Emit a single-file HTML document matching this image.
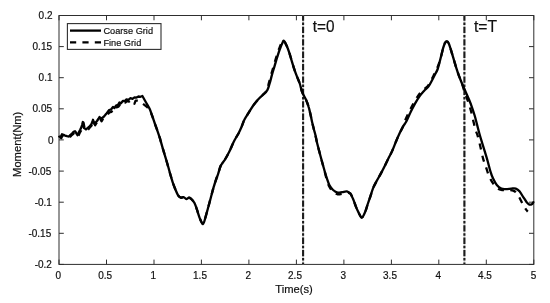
<!DOCTYPE html>
<html lang="en">
<head>
<meta charset="utf-8">
<title>Moment vs Time</title>
<style>
html,body{margin:0;padding:0;background:#fff;}
.lbl text{font-family:"Liberation Sans",sans-serif;fill:#111;stroke:#111;stroke-width:0.2px;}
body{width:550px;height:303px;overflow:hidden;position:relative;}
</style>
</head>
<body>
<svg width="550" height="303" viewBox="0 0 550 303" style="display:block;position:absolute;left:0;top:0">
<rect x="0" y="0" width="550" height="303" fill="#ffffff"/>
<g stroke="#2e2e2e" stroke-width="1" fill="none" stroke-linecap="butt">
<rect x="59.0" y="15.5" width="474.8" height="248.9"/>
<path d="M59.0,264.4 v-4.8 M59.0,15.5 v4.8 M106.5,264.4 v-4.8 M106.5,15.5 v4.8 M154.0,264.4 v-4.8 M154.0,15.5 v4.8 M201.4,264.4 v-4.8 M201.4,15.5 v4.8 M248.9,264.4 v-4.8 M248.9,15.5 v4.8 M296.4,264.4 v-4.8 M296.4,15.5 v4.8 M343.9,264.4 v-4.8 M343.9,15.5 v4.8 M391.4,264.4 v-4.8 M391.4,15.5 v4.8 M438.8,264.4 v-4.8 M438.8,15.5 v4.8 M486.3,264.4 v-4.8 M486.3,15.5 v4.8 M533.8,264.4 v-4.8 M533.8,15.5 v4.8 M59.0,15.5 h4.8 M533.8,15.5 h-4.8 M59.0,46.6 h4.8 M533.8,46.6 h-4.8 M59.0,77.7 h4.8 M533.8,77.7 h-4.8 M59.0,108.8 h4.8 M533.8,108.8 h-4.8 M59.0,139.9 h4.8 M533.8,139.9 h-4.8 M59.0,171.1 h4.8 M533.8,171.1 h-4.8 M59.0,202.2 h4.8 M533.8,202.2 h-4.8 M59.0,233.3 h4.8 M533.8,233.3 h-4.8 M59.0,264.4 h4.8 M533.8,264.4 h-4.8"/>
</g>
<path d="M303.1,15.5 V264.4" stroke="#d6d6d6" stroke-width="1.8" fill="none"/>
<path d="M303.1,15.5 V264.4" stroke="#1c1c1c" stroke-width="2.1" stroke-dasharray="6.3 1.8 2.5 1.8" stroke-dashoffset="1.1" fill="none"/>
<path d="M464.4,15.5 V264.4" stroke="#d6d6d6" stroke-width="1.8" fill="none"/>
<path d="M464.4,15.5 V264.4" stroke="#1c1c1c" stroke-width="2.1" stroke-dasharray="6.3 1.8 2.5 1.8" stroke-dashoffset="1.1" fill="none"/>
<path d="M59.3,136.6 L60.6,137.3 L62.0,134.2 L63.5,134.8 L65.0,135.6 L67.0,136.2 L69.0,136.5 L70.5,134.8 L72.0,133.5 L73.6,131.8 L75.0,131.2 L75.8,132.3 L76.5,133.6 L77.5,135.2 L78.2,134.0 L79.0,132.0 L80.3,129.6 L81.5,127.0 L82.2,124.5 L82.8,122.0 L83.4,125.0 L84.0,128.0 L85.0,128.6 L86.0,129.5 L87.5,128.2 L89.0,127.0 L90.3,125.6 L91.5,124.0 L92.3,122.0 L93.0,119.8 L93.8,122.0 L94.5,124.0 L95.8,122.3 L97.0,121.0 L98.3,119.0 L99.5,117.0 L100.2,117.6 L101.0,119.0 L102.5,117.6 L104.0,116.5 L105.5,114.6 L107.0,113.0 L108.0,111.4 L109.0,110.2 L111.0,109.5 L113.0,107.0 L114.5,108.0 L116.0,105.5 L118.0,104.8 L119.5,102.5 L121.0,103.2 L123.0,100.8 L125.0,101.0 L126.5,99.3 L128.5,99.8 L130.5,98.2 L132.5,98.8 L134.5,97.3 L136.5,97.6 L138.5,96.5 L140.5,96.8 L142.4,96.0 L145.9,102.2 C147.1,104.3 148.4,106.3 149.5,108.6 C150.6,110.9 151.3,113.3 152.2,115.9 C153.1,118.5 154.1,121.4 155.0,124.0 C155.9,126.6 156.7,128.8 157.6,131.3 C158.5,133.8 159.3,136.4 160.2,139.2 C161.0,142.0 161.8,145.1 162.7,148.1 C163.6,151.1 164.5,154.2 165.4,157.2 C166.3,160.2 167.2,163.3 168.1,166.3 C168.9,169.3 169.7,172.3 170.5,175.0 C171.3,177.7 171.9,179.9 172.7,182.3 C173.5,184.7 174.5,187.3 175.4,189.5 C176.3,191.7 177.2,193.9 178.1,195.3 C179.0,196.7 180.0,197.4 180.9,197.7 C181.8,198.0 182.7,196.9 183.6,197.1 C184.5,197.3 185.4,198.9 186.3,199.0 C187.2,199.1 188.1,197.6 189.0,197.7 C189.9,197.8 190.9,198.6 191.8,199.5 C192.7,200.4 193.6,201.3 194.5,203.1 C195.4,204.9 196.3,207.8 197.2,210.4 C198.1,213.0 198.9,216.3 199.9,218.6 C200.9,220.9 202.1,224.2 203.0,224.0 C203.9,223.8 204.6,220.3 205.4,217.6 C206.2,214.9 207.2,211.0 208.1,207.7 C209.0,204.4 209.9,201.0 210.8,197.7 C211.7,194.4 212.6,190.7 213.5,187.7 C214.4,184.7 215.3,181.8 216.1,179.5 C216.9,177.2 217.4,176.2 218.1,174.0 C218.8,171.8 219.7,168.3 220.4,166.5 C221.1,164.7 221.7,164.2 222.5,163.0 C223.3,161.8 223.8,161.4 225.0,159.5 C226.2,157.6 228.0,154.3 229.5,151.3 C231.0,148.3 232.5,144.3 234.0,141.3 C235.5,138.3 237.3,135.6 238.6,133.2 C239.8,130.8 240.5,129.3 241.5,127.0 C242.5,124.7 243.2,122.0 244.5,119.5 C245.8,117.0 247.5,114.6 249.0,112.2 C250.5,109.8 252.1,107.1 253.6,105.0 C255.1,102.9 256.6,101.2 258.1,99.5 C259.6,97.8 261.2,96.5 262.7,95.0 C264.2,93.5 266.1,92.2 267.2,90.4 C268.3,88.6 268.7,86.5 269.5,84.0 C270.3,81.5 271.0,78.4 271.8,75.4 C272.6,72.5 273.6,69.3 274.5,66.3 C275.4,63.3 276.3,60.1 277.2,57.2 C278.1,54.3 279.0,51.3 279.9,49.0 C280.8,46.7 281.6,44.6 282.3,43.2 C283.0,41.8 283.2,40.5 283.9,40.8 C284.6,41.1 285.4,43.2 286.3,45.0 C287.2,46.8 288.1,49.1 289.0,51.8 C289.9,54.4 290.8,57.9 291.7,60.9 C292.6,63.9 293.6,67.2 294.5,69.9 C295.4,72.6 296.3,74.9 297.2,77.2 C298.1,79.5 299.1,81.5 299.9,84.0 C300.7,86.5 301.2,89.6 302.2,92.2 C303.2,94.8 304.8,97.1 305.9,99.5 C307.0,101.9 307.9,104.4 308.6,106.8 C309.4,109.2 309.8,111.4 310.4,114.0 C311.0,116.6 311.6,119.9 312.2,122.5 C312.8,125.1 313.5,127.8 314.0,129.8 C314.5,131.8 314.8,132.3 315.3,134.5 C315.8,136.7 316.4,140.2 317.1,143.1 C317.8,146.0 318.7,149.2 319.5,152.2 C320.3,155.2 321.1,158.3 321.9,161.3 C322.7,164.3 323.6,167.4 324.4,170.2 C325.2,173.0 325.9,175.7 326.8,178.2 C327.7,180.7 328.4,183.4 329.5,185.4 C330.6,187.4 331.7,188.8 333.1,190.0 C334.5,191.2 336.2,192.3 337.7,192.7 C339.2,193.0 340.7,192.3 342.2,192.1 C343.7,191.9 345.4,191.2 346.8,191.4 C348.2,191.7 349.3,192.3 350.4,193.6 C351.4,194.9 352.2,196.9 353.1,199.0 C354.0,201.1 354.9,204.0 355.8,206.3 C356.7,208.6 357.6,210.7 358.6,212.6 C359.6,214.5 360.8,217.5 361.8,217.5 C362.9,217.5 363.9,214.8 364.9,212.6 C365.9,210.4 366.7,207.2 367.6,204.5 C368.5,201.8 369.5,199.0 370.4,196.3 C371.3,193.6 372.1,190.7 373.1,188.1 C374.2,185.5 375.4,183.3 376.7,180.9 C378.0,178.5 379.4,176.2 380.8,173.6 C382.2,171.0 383.7,168.0 385.0,165.4 C386.3,162.8 387.4,160.5 388.6,158.1 C389.8,155.7 391.0,153.6 392.2,150.9 C393.4,148.2 394.7,144.7 395.9,141.8 C397.1,138.9 398.3,136.2 399.5,133.6 C400.7,131.0 402.0,128.4 403.1,126.4 C404.2,124.4 405.1,123.8 406.3,121.5 C407.5,119.2 408.9,115.6 410.4,112.6 C411.8,109.6 413.5,106.3 415.0,103.6 C416.5,100.9 418.0,98.4 419.5,96.3 C421.0,94.2 422.5,92.6 424.0,90.9 C425.5,89.2 427.2,88.1 428.6,86.3 C430.0,84.5 431.1,82.0 432.2,80.0 C433.3,78.0 434.1,76.3 435.0,74.5 C435.9,72.7 436.8,71.6 437.7,69.0 C438.6,66.4 439.5,62.5 440.4,59.0 C441.3,55.5 442.4,50.8 443.1,48.1 C443.9,45.5 444.3,44.2 444.9,43.1 C445.5,42.0 446.2,41.3 446.8,41.3 C447.4,41.3 448.0,42.0 448.6,43.1 C449.2,44.2 449.6,45.8 450.4,48.1 C451.1,50.5 452.2,54.2 453.1,57.2 C454.0,60.2 454.9,63.4 455.8,66.3 C456.7,69.2 457.6,72.0 458.6,74.8 C459.6,77.6 460.7,80.2 461.8,83.0 C462.9,85.8 464.2,88.5 465.4,91.3 C466.6,94.0 467.9,96.9 469.0,99.5 C470.1,102.1 470.9,104.2 471.8,106.8 C472.7,109.4 473.6,112.1 474.5,115.0 C475.4,117.9 476.1,120.8 476.9,124.0 C477.7,127.2 478.6,130.8 479.5,134.0 C480.4,137.2 481.3,140.1 482.2,143.1 C483.1,146.1 484.1,149.2 485.0,152.2 C485.9,155.2 486.8,158.1 487.7,161.3 C488.6,164.5 489.5,168.4 490.4,171.3 C491.3,174.2 492.0,176.3 493.1,178.6 C494.2,180.9 495.4,183.3 496.8,185.0 C498.2,186.7 499.8,187.9 501.3,188.6 C502.8,189.3 504.2,189.1 505.9,189.1 C507.6,189.1 509.7,188.7 511.3,188.6 C513.0,188.5 514.4,188.1 515.8,188.6 C517.2,189.1 518.3,189.9 519.5,191.3 C520.7,192.7 521.9,195.0 523.1,196.8 C524.3,198.6 525.7,200.9 526.7,202.2 C527.8,203.5 528.5,204.3 529.4,204.6 C530.3,204.9 531.5,204.4 532.2,204.0 C532.9,203.6 533.2,202.5 533.4,202.2" stroke="#000" stroke-width="2.3" fill="none" stroke-linejoin="round" stroke-linecap="round"/>
<path d="M60.0,137.3 L61.3,138.1 L62.7,135.2 L64.2,135.9 L65.7,136.8 L67.7,137.5 L69.7,137.2 L71.2,135.6 L72.7,134.4 L74.3,132.8 L75.7,132.4 L76.5,133.6 L77.2,134.2 L78.2,135.9 L78.9,134.8 L79.7,133.0 L81.0,130.7 L82.2,128.2 L82.9,125.8 L83.5,122.7 L84.1,125.8 L84.7,128.9 L85.7,129.6 L86.7,130.7 L88.2,129.5 L89.7,127.6 L91.0,126.3 L92.2,124.8 L93.0,123.0 L93.7,120.9 L94.5,123.2 L95.2,125.3 L96.5,123.0 L97.7,121.8 L99.0,119.9 L100.2,118.0 L100.7,119.7 L101.5,121.3 L103.0,118.9 L104.5,118.0 L106.0,116.3 L107.5,114.9 L108.5,113.4 L109.5,112.4 L111.5,111.9 L113.5,108.4 L115.0,109.6 L116.5,107.3 L118.5,106.7 L120.0,104.6 L121.5,105.5 L123.5,102.1 L125.5,102.5 L127.0,101.0 L129.0,101.7 L131.0,100.2 L131.5,100.6 L133.0,100.9 L134.4,103.8 L135.6,100.6 L137.0,100.6 L138.6,101.0 L140.4,102.2 L142.6,103.6 L145.0,105.4 L147.2,107.2 L149.5,109.2 L152.2,115.9 C153.1,118.4 154.1,121.4 155.0,124.0 C155.9,126.6 156.7,128.8 157.6,131.3 C158.5,133.8 159.3,136.4 160.2,139.2 C161.0,142.0 161.8,145.1 162.7,148.1 C163.6,151.1 164.5,154.2 165.4,157.2 C166.3,160.2 167.2,163.3 168.1,166.3 C168.9,169.3 169.7,172.3 170.5,175.0 C171.3,177.7 171.9,179.9 172.7,182.3 C173.5,184.7 174.5,187.3 175.4,189.5 C176.3,191.7 177.2,193.9 178.1,195.3 C179.0,196.7 180.0,197.4 180.9,197.7 C181.8,198.0 182.7,196.9 183.6,197.1 C184.5,197.3 185.4,198.9 186.3,199.0 C187.2,199.1 188.1,197.6 189.0,197.7 C189.9,197.8 190.9,198.6 191.8,199.5 C192.7,200.4 193.6,201.3 194.5,203.1 C195.4,204.9 196.3,207.8 197.2,210.4 C198.1,213.0 198.9,216.3 199.9,218.6 C200.9,220.9 202.1,224.2 203.0,224.0 C203.9,223.8 204.6,220.3 205.4,217.6 C206.2,214.9 207.2,211.0 208.1,207.7 C209.0,204.4 209.9,201.0 210.8,197.7 C211.7,194.4 212.6,190.7 213.5,187.7 C214.4,184.7 215.3,181.8 216.1,179.5 C216.9,177.2 217.4,176.2 218.1,174.0 C218.8,171.8 219.7,168.3 220.4,166.5 C221.1,164.7 221.7,164.2 222.5,163.0 C223.3,161.8 223.8,161.4 225.0,159.5 C226.2,157.6 228.0,154.3 229.5,151.3 C231.0,148.3 232.5,144.3 234.0,141.3 C235.5,138.3 237.3,135.6 238.6,133.2 C239.8,130.8 240.5,129.3 241.5,127.0 C242.5,124.7 243.2,122.0 244.5,119.5 C245.8,117.0 247.5,114.6 249.0,112.2 C250.5,109.8 252.1,107.1 253.6,105.0 C255.1,102.9 256.6,101.2 258.1,99.5 C259.6,97.8 261.2,96.5 262.7,95.0 C264.2,93.5 266.2,92.2 267.2,90.4 C268.2,88.6 268.0,86.5 268.6,84.0 C269.2,81.5 270.1,78.4 270.9,75.4 C271.7,72.5 272.7,69.3 273.6,66.3 C274.5,63.3 275.4,60.1 276.3,57.2 C277.2,54.3 278.1,51.3 279.0,49.0 C279.9,46.7 280.6,44.6 281.4,43.2 C282.2,41.8 283.1,40.5 283.9,40.8 C284.7,41.1 285.4,43.2 286.3,45.0 C287.2,46.8 288.1,49.1 289.0,51.8 C289.9,54.4 290.8,57.9 291.7,60.9 C292.6,63.9 293.6,67.2 294.5,69.9 C295.4,72.6 296.3,74.9 297.2,77.2 C298.1,79.5 299.1,81.5 299.9,84.0 C300.7,86.5 301.2,89.6 302.2,92.2 C303.2,94.8 304.8,97.1 305.9,99.5 C307.0,101.9 307.9,104.4 308.6,106.8 C309.4,109.2 309.8,111.4 310.4,114.0 C311.0,116.6 311.6,119.9 312.2,122.5 C312.8,125.1 313.5,127.8 314.0,129.8 C314.5,131.8 314.8,132.3 315.3,134.5 C315.8,136.7 316.4,140.2 317.1,143.1 C317.8,146.0 318.7,149.2 319.5,152.2 C320.3,155.2 321.1,158.3 321.9,161.3 C322.7,164.3 323.6,167.1 324.4,170.2 C325.2,173.3 325.9,177.0 326.8,179.8 C327.7,182.6 328.4,185.0 329.5,187.0 C330.6,189.0 331.7,190.4 333.1,191.6 C334.5,192.8 336.2,193.9 337.7,194.3 C339.2,194.6 340.7,193.9 342.2,193.7 C343.7,193.5 345.4,193.0 346.8,193.0 C348.2,193.0 349.3,192.6 350.4,193.6 C351.4,194.6 352.2,196.9 353.1,199.0 C354.0,201.1 354.9,204.0 355.8,206.3 C356.7,208.6 357.6,210.7 358.6,212.6 C359.6,214.5 360.8,217.5 361.8,217.5 C362.9,217.5 363.9,214.8 364.9,212.6 C365.9,210.4 366.7,207.2 367.6,204.5 C368.5,201.8 369.5,199.0 370.4,196.3 C371.3,193.6 372.1,190.7 373.1,188.1 C374.2,185.5 375.4,183.3 376.7,180.9 C378.0,178.5 379.4,176.2 380.8,173.6 C382.2,171.0 383.7,168.0 385.0,165.4 C386.3,162.8 387.4,160.5 388.6,158.1 C389.8,155.7 391.0,153.6 392.2,150.9 C393.4,148.2 394.7,144.7 395.9,141.8 C397.1,138.9 398.3,136.2 399.5,133.6 C400.7,131.0 402.2,128.5 403.1,126.4 C404.0,124.3 404.0,123.2 405.0,120.8 C406.0,118.4 407.6,114.9 409.1,111.9 C410.5,108.9 412.2,105.6 413.7,102.9 C415.2,100.2 416.7,97.7 418.2,95.6 C419.7,93.5 421.1,91.8 422.7,90.2 C424.3,88.6 426.4,87.7 427.9,85.9 C429.4,84.1 430.4,81.6 431.5,79.6 C432.6,77.6 433.4,75.9 434.3,74.1 C435.2,72.3 436.0,71.1 437.0,68.6 C438.0,66.1 439.4,62.4 440.4,59.0 C441.4,55.6 442.4,50.8 443.1,48.1 C443.9,45.5 444.3,44.2 444.9,43.1 C445.5,42.0 446.2,41.3 446.8,41.3 C447.4,41.3 448.0,42.0 448.6,43.1 C449.2,44.2 449.6,45.8 450.4,48.1 C451.1,50.5 452.2,54.2 453.1,57.2 C454.0,60.2 454.9,63.4 455.8,66.3 C456.7,69.2 457.6,72.0 458.6,74.8 C459.6,77.6 460.7,79.9 461.8,83.0 C462.9,86.1 464.1,90.9 465.0,93.5 C465.9,96.1 466.3,96.7 467.0,98.5 C467.7,100.3 468.4,102.5 469.0,104.5 C469.6,106.5 470.3,108.6 470.9,110.8 C471.5,113.0 472.0,115.3 472.5,117.5 C473.0,119.7 473.5,121.7 474.0,123.8 C474.5,125.9 474.9,128.0 475.5,130.0 C476.1,132.0 476.9,133.1 477.7,135.9 C478.5,138.7 479.5,143.0 480.4,146.8 C481.3,150.6 482.2,155.3 483.1,158.6 C484.0,161.9 485.0,164.1 485.9,166.8 C486.8,169.5 487.6,172.4 488.6,175.0 C489.7,177.6 490.8,180.1 492.2,182.2 C493.6,184.3 495.3,186.4 496.8,187.7 C498.3,189.0 499.6,189.6 501.3,190.0 C503.0,190.4 505.0,189.9 506.8,190.0 C508.6,190.1 510.7,190.0 512.2,190.4 C513.7,190.8 514.6,191.0 515.8,192.2 C517.0,193.4 518.3,195.6 519.5,197.7 C520.7,199.8 521.9,202.8 523.1,204.9 C524.3,207.0 525.9,209.3 526.7,210.4 C527.5,211.5 527.6,211.4 527.8,211.6" stroke="#000" stroke-width="2.3" fill="none" stroke-linejoin="round" stroke-dasharray="6.2 6.2"/>
<rect x="67.4" y="23.6" width="93.6" height="25.8" fill="#fff" stroke="#2e2e2e" stroke-width="1.1"/>
<path d="M70,30.6 H101" stroke="#000" stroke-width="2.3" fill="none"/>
<path d="M70,42.4 H101" stroke="#000" stroke-width="2.3" stroke-dasharray="6.2 6.2" fill="none"/>
<g class="lbl">
<text transform="translate(103.4,34.4) scale(0.95,1)" font-size="9.7">Coarse Grid</text>
<text transform="translate(103.4,46.2) scale(0.95,1)" font-size="9.7">Fine Grid</text>
<text transform="translate(58.4,278.5) scale(0.99,1)" font-size="10.1" text-anchor="middle">0</text>
<text transform="translate(105.1,278.5) scale(0.99,1)" font-size="10.1" text-anchor="middle">0.5</text>
<text transform="translate(153.4,278.5) scale(0.99,1)" font-size="10.1" text-anchor="middle">1</text>
<text transform="translate(200.0,278.5) scale(0.99,1)" font-size="10.1" text-anchor="middle">1.5</text>
<text transform="translate(248.3,278.5) scale(0.99,1)" font-size="10.1" text-anchor="middle">2</text>
<text transform="translate(295.0,278.5) scale(0.99,1)" font-size="10.1" text-anchor="middle">2.5</text>
<text transform="translate(343.3,278.5) scale(0.99,1)" font-size="10.1" text-anchor="middle">3</text>
<text transform="translate(390.0,278.5) scale(0.99,1)" font-size="10.1" text-anchor="middle">3.5</text>
<text transform="translate(438.2,278.5) scale(0.99,1)" font-size="10.1" text-anchor="middle">4</text>
<text transform="translate(484.9,278.5) scale(0.99,1)" font-size="10.1" text-anchor="middle">4.5</text>
<text transform="translate(533.5,278.5) scale(0.99,1)" font-size="10.1" text-anchor="middle">5</text>
<text transform="translate(52.5,19.1) scale(0.99,1)" font-size="10.1" text-anchor="end">0.2</text>
<text transform="translate(52.0,50.2) scale(0.99,1)" font-size="10.1" text-anchor="end">0.15</text>
<text transform="translate(52.5,81.3) scale(0.99,1)" font-size="10.1" text-anchor="end">0.1</text>
<text transform="translate(52.0,112.4) scale(0.99,1)" font-size="10.1" text-anchor="end">0.05</text>
<text transform="translate(53.6,143.5) scale(0.99,1)" font-size="10.1" text-anchor="end">0</text>
<text transform="translate(51.2,174.7) scale(0.99,1)" font-size="10.1" text-anchor="end">-0.05</text>
<text transform="translate(51.9,205.8) scale(0.99,1)" font-size="10.1" text-anchor="end">-0.1</text>
<text transform="translate(51.2,236.9) scale(0.99,1)" font-size="10.1" text-anchor="end">-0.15</text>
<text transform="translate(51.9,268.0) scale(0.99,1)" font-size="10.1" text-anchor="end">-0.2</text>
<text transform="translate(294.0,293.1) scale(1,1)" font-size="11.2" text-anchor="middle">Time(s)</text>
<text transform="translate(20.9,144.3) rotate(-90) scale(1,1)" font-size="11.2" text-anchor="middle">Moment(Nm)</text>
<text transform="translate(312.8,32.2) scale(0.955,1)" font-size="16.1">t=0</text>
<text transform="translate(474.0,32.2) scale(0.975,1)" font-size="16.1">t=T</text>
</g>
</svg>
</body>
</html>
